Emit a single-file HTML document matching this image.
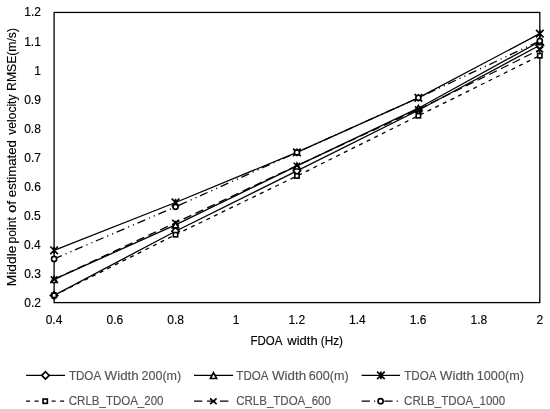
<!DOCTYPE html>
<html lang="en"><head><meta charset="utf-8"><title>Chart</title>
<style>
html,body{margin:0;padding:0;background:#fff;}
svg{display:block;}
text{font-family:"Liberation Sans",sans-serif;font-size:12px;}
.ax{fill:#000;stroke:#000;stroke-width:0.15px;}
.lg{fill:#555;stroke:#555;stroke-width:0.15px;}
</style></head><body>
<svg width="550" height="409" viewBox="0 0 550 409">
<rect x="0" y="0" width="550" height="409" fill="#fff"/>
<rect x="54.1" y="12.45" width="485.70" height="290.15" fill="none" stroke="#000" stroke-width="1.3"/>
<polyline points="54.10,295.40 175.52,231.22 296.95,170.87 418.38,110.23 539.80,45.24" fill="none" stroke="#000" stroke-width="1.3"/>
<path d="M50.40 295.40L54.10 291.70L57.80 295.40L54.10 299.10Z" fill="#fff" stroke="#000" stroke-width="1.65"/>
<path d="M171.82 231.22L175.52 227.52L179.22 231.22L175.52 234.92Z" fill="#fff" stroke="#000" stroke-width="1.65"/>
<path d="M293.25 170.87L296.95 167.17L300.65 170.87L296.95 174.57Z" fill="#fff" stroke="#000" stroke-width="1.65"/>
<path d="M414.68 110.23L418.38 106.53L422.07 110.23L418.38 113.93Z" fill="#fff" stroke="#000" stroke-width="1.65"/>
<path d="M536.10 45.24L539.80 41.54L543.50 45.24L539.80 48.94Z" fill="#fff" stroke="#000" stroke-width="1.65"/>
<polyline points="54.10,279.39 175.52,224.84 296.95,165.94 418.38,108.20 539.80,41.46" fill="none" stroke="#000" stroke-width="1.3"/>
<path d="M54.10 276.59L57.20 282.49L51.00 282.49Z" fill="#fff" stroke="#000" stroke-width="1.65" stroke-linejoin="miter"/>
<path d="M175.52 222.04L178.62 227.94L172.42 227.94Z" fill="#fff" stroke="#000" stroke-width="1.65" stroke-linejoin="miter"/>
<path d="M296.95 163.14L300.05 169.04L293.85 169.04Z" fill="#fff" stroke="#000" stroke-width="1.65" stroke-linejoin="miter"/>
<path d="M418.38 105.40L421.48 111.30L415.27 111.30Z" fill="#fff" stroke="#000" stroke-width="1.65" stroke-linejoin="miter"/>
<path d="M539.80 38.66L542.90 44.56L536.70 44.56Z" fill="#fff" stroke="#000" stroke-width="1.65" stroke-linejoin="miter"/>
<polyline points="54.10,250.31 175.52,202.50 296.95,152.39 418.38,97.81 539.80,33.63" fill="none" stroke="#000" stroke-width="1.3"/>
<path d="M50.30 246.51L57.90 254.11M50.30 254.11L57.90 246.51M54.10 246.51L54.10 254.11" fill="none" stroke="#000" stroke-width="1.65"/>
<path d="M171.72 198.70L179.32 206.30M171.72 206.30L179.32 198.70M175.52 198.70L175.52 206.30" fill="none" stroke="#000" stroke-width="1.65"/>
<path d="M293.15 148.59L300.75 156.19M293.15 156.19L300.75 148.59M296.95 148.59L296.95 156.19" fill="none" stroke="#000" stroke-width="1.65"/>
<path d="M414.57 94.01L422.18 101.61M414.57 101.61L422.18 94.01M418.38 94.01L418.38 101.61" fill="none" stroke="#000" stroke-width="1.65"/>
<path d="M536.00 29.83L543.60 37.43M536.00 37.43L543.60 29.83M539.80 29.83L539.80 37.43" fill="none" stroke="#000" stroke-width="1.65"/>
<polyline points="54.10,295.40 175.52,234.70 296.95,175.95 418.38,115.74 539.80,55.68" fill="none" stroke="#000" stroke-width="1.3" stroke-dasharray="4 4.5"/>
<rect x="51.95" y="293.25" width="4.30" height="4.30" fill="#fff" stroke="#000" stroke-width="1.65"/>
<rect x="173.37" y="232.55" width="4.30" height="4.30" fill="#fff" stroke="#000" stroke-width="1.65"/>
<rect x="294.80" y="173.80" width="4.30" height="4.30" fill="#fff" stroke="#000" stroke-width="1.65"/>
<rect x="416.23" y="113.59" width="4.30" height="4.30" fill="#fff" stroke="#000" stroke-width="1.65"/>
<rect x="537.65" y="53.53" width="4.30" height="4.30" fill="#fff" stroke="#000" stroke-width="1.65"/>
<polyline points="54.10,279.39 175.52,222.81 296.95,165.65 418.38,109.36 539.80,49.59" fill="none" stroke="#000" stroke-width="1.3" stroke-dasharray="8.4 4.6"/>
<path d="M50.80 276.49L57.40 282.29M50.80 282.29L57.40 276.49" fill="none" stroke="#000" stroke-width="1.65"/>
<path d="M172.22 219.91L178.82 225.71M172.22 225.71L178.82 219.91" fill="none" stroke="#000" stroke-width="1.65"/>
<path d="M293.65 162.75L300.25 168.55M293.65 168.55L300.25 162.75" fill="none" stroke="#000" stroke-width="1.65"/>
<path d="M415.07 106.46L421.68 112.26M415.07 112.26L421.68 106.46" fill="none" stroke="#000" stroke-width="1.65"/>
<path d="M536.50 46.69L543.10 52.49M536.50 52.49L543.10 46.69" fill="none" stroke="#000" stroke-width="1.65"/>
<polyline points="54.10,258.90 175.52,206.85 296.95,152.39 418.38,97.81 539.80,40.88" fill="none" stroke="#000" stroke-width="1.3" stroke-dasharray="8.3 4.1 1.2 4.1 1.2 3.8"/>
<circle cx="54.10" cy="258.90" r="2.55" fill="#fff" stroke="#000" stroke-width="1.65"/>
<circle cx="175.52" cy="206.85" r="2.55" fill="#fff" stroke="#000" stroke-width="1.65"/>
<circle cx="296.95" cy="152.39" r="2.55" fill="#fff" stroke="#000" stroke-width="1.65"/>
<circle cx="418.38" cy="97.81" r="2.55" fill="#fff" stroke="#000" stroke-width="1.65"/>
<circle cx="539.80" cy="40.88" r="2.55" fill="#fff" stroke="#000" stroke-width="1.65"/>
<text class="ax" x="24.21" y="306.6">0.2</text>
<text class="ax" x="24.14" y="277.6">0.3</text>
<text class="ax" x="23.96" y="248.6">0.4</text>
<text class="ax" x="24.12" y="219.6">0.5</text>
<text class="ax" x="24.14" y="190.5">0.6</text>
<text class="ax" x="24.21" y="161.5">0.7</text>
<text class="ax" x="24.13" y="132.5">0.8</text>
<text class="ax" x="24.18" y="103.5">0.9</text>
<text class="ax" x="34.21" y="74.5">1</text>
<text class="ax" x="24.20" y="45.5">1.1</text>
<text class="ax" x="24.21" y="16.4">1.2</text>
<text class="ax" x="45.70" y="324.3">0.4</text>
<text class="ax" x="106.50" y="324.3">0.6</text>
<text class="ax" x="167.21" y="324.3">0.8</text>
<text class="ax" x="232.74" y="324.3">1</text>
<text class="ax" x="288.45" y="324.3">1.2</text>
<text class="ax" x="349.04" y="324.3">1.4</text>
<text class="ax" x="409.84" y="324.3">1.6</text>
<text class="ax" x="470.55" y="324.3">1.8</text>
<text class="ax" x="536.46" y="324.3">2</text>
<text class="ax" x="250.56" y="345.4" textLength="31.86" lengthAdjust="spacingAndGlyphs">FDOA</text>
<text class="ax" x="287.22" y="345.4" textLength="30.42" lengthAdjust="spacingAndGlyphs">width</text>
<text class="ax" x="320.78" y="345.4" textLength="22.14" lengthAdjust="spacingAndGlyphs">(Hz)</text>
<g transform="translate(15.9 300) rotate(-90)">
<text class="ax" x="13.77" y="0" textLength="40.62" lengthAdjust="spacingAndGlyphs">Middle</text>
<text class="ax" x="56.52" y="0" textLength="26.36" lengthAdjust="spacingAndGlyphs">point</text>
<text class="ax" x="87.20" y="0" textLength="11.97" lengthAdjust="spacingAndGlyphs">of</text>
<text class="ax" x="102.85" y="0" textLength="57.09" lengthAdjust="spacingAndGlyphs">estimated</text>
<text class="ax" x="165.36" y="0" textLength="40.06" lengthAdjust="spacingAndGlyphs">velocity</text>
<text class="ax" x="209.11" y="0" textLength="62.84" lengthAdjust="spacingAndGlyphs">RMSE(m/s)</text>
</g>
<line x1="26.1" y1="375.4" x2="65.0" y2="375.4" stroke="#000" stroke-width="1.3"/>
<path d="M41.80 375.40L45.50 371.70L49.20 375.40L45.50 379.10Z" fill="#fff" stroke="#000" stroke-width="1.65"/>
<text class="lg" x="68.95" y="379.5" textLength="32.17" lengthAdjust="spacingAndGlyphs">TDOA</text>
<text class="lg" x="104.54" y="379.5" textLength="34.22" lengthAdjust="spacingAndGlyphs">Width</text>
<text class="lg" x="141.47" y="379.5" textLength="39.70" lengthAdjust="spacingAndGlyphs">200(m)</text>
<line x1="194.0" y1="375.4" x2="233.1" y2="375.4" stroke="#000" stroke-width="1.3"/>
<path d="M213.50 372.60L216.60 378.50L210.40 378.50Z" fill="#fff" stroke="#000" stroke-width="1.65" stroke-linejoin="miter"/>
<text class="lg" x="236.35" y="379.5" textLength="32.17" lengthAdjust="spacingAndGlyphs">TDOA</text>
<text class="lg" x="271.94" y="379.5" textLength="34.22" lengthAdjust="spacingAndGlyphs">Width</text>
<text class="lg" x="308.87" y="379.5" textLength="39.70" lengthAdjust="spacingAndGlyphs">600(m)</text>
<line x1="361.6" y1="375.4" x2="400.0" y2="375.4" stroke="#000" stroke-width="1.3"/>
<path d="M377.10 371.60L384.70 379.20M377.10 379.20L384.70 371.60M380.90 371.60L380.90 379.20" fill="none" stroke="#000" stroke-width="1.65"/>
<text class="lg" x="404.25" y="379.5" textLength="32.17" lengthAdjust="spacingAndGlyphs">TDOA</text>
<text class="lg" x="439.84" y="379.5" textLength="34.22" lengthAdjust="spacingAndGlyphs">Width</text>
<text class="lg" x="476.84" y="379.5" textLength="47.03" lengthAdjust="spacingAndGlyphs">1000(m)</text>
<line x1="26.1" y1="401.2" x2="65.0" y2="401.2" stroke="#000" stroke-width="1.3" stroke-dasharray="4 4.5"/>
<rect x="43.05" y="399.05" width="4.30" height="4.30" fill="#fff" stroke="#000" stroke-width="1.65"/>
<text class="lg" x="68.82" y="404.9" textLength="94.62" lengthAdjust="spacingAndGlyphs">CRLB_TDOA_200</text>
<line x1="194.0" y1="401.2" x2="233.1" y2="401.2" stroke="#000" stroke-width="1.3" stroke-dasharray="8.4 4.6"/>
<path d="M210.00 398.30L216.60 404.10M210.00 404.10L216.60 398.30" fill="none" stroke="#000" stroke-width="1.65"/>
<text class="lg" x="236.22" y="404.9" textLength="94.62" lengthAdjust="spacingAndGlyphs">CRLB_TDOA_600</text>
<line x1="361.6" y1="401.2" x2="400.0" y2="401.2" stroke="#000" stroke-width="1.3" stroke-dasharray="8.3 4.1 1.2 4.1 1.2 3.8"/>
<circle cx="380.60" cy="401.20" r="2.55" fill="#fff" stroke="#000" stroke-width="1.65"/>
<text class="lg" x="404.12" y="404.9" textLength="101.02" lengthAdjust="spacingAndGlyphs">CRLB_TDOA_1000</text>
</svg></body></html>
